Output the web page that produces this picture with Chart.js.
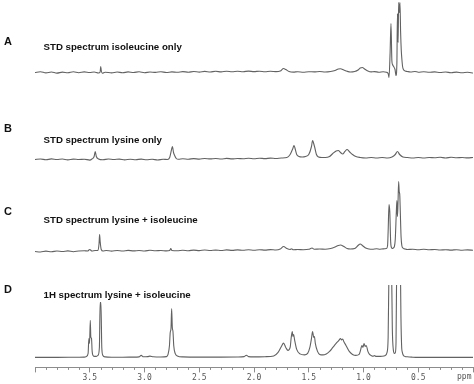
<!DOCTYPE html>
<html><head><meta charset="utf-8">
<script src="https://cdn.jsdelivr.net/npm/chart.js@4"></script>
<style>
html,body{margin:0;padding:0;background:#fff;overflow:hidden;}
#wrap{position:relative;width:474px;height:384px;overflow:hidden;}
.pan{position:absolute;left:0;width:474px;}
.lbl{position:absolute;font-family:"Liberation Sans",Arial,sans-serif;font-weight:bold;color:#111;white-space:nowrap;line-height:1;}
.letter{font-size:11px;left:4px;}
.title{font-size:9.7px;left:43.5px;}
#ppm{position:absolute;left:457px;top:372.5px;font-family:"DejaVu Sans Mono",monospace;font-size:8px;color:#555;line-height:1;}
</style></head><body>
<div id="wrap">
  <div class="pan" style="top:0px;height:95px"><canvas id="cA"></canvas></div>
  <div class="pan" style="top:100px;height:80px"><canvas id="cB"></canvas></div>
  <div class="pan" style="top:175px;height:90px"><canvas id="cC"></canvas></div>
  <div class="pan" style="top:285px;height:99px"><canvas id="cD"></canvas></div>
  <div class="lbl letter" id="lA" style="top:35.6px"></div>
  <div class="lbl title" id="tA" style="top:42px"></div>
  <div class="lbl letter" id="lB" style="top:122.6px"></div>
  <div class="lbl title" id="tB" style="top:135px"></div>
  <div class="lbl letter" id="lC" style="top:205.6px"></div>
  <div class="lbl title" id="tC" style="top:215px"></div>
  <div class="lbl letter" id="lD" style="top:283.6px"></div>
  <div class="lbl title" id="tD" style="top:290px"></div>
  <div id="ppm"></div>
</div>
<script>
// ---- labels ----
const panelLetters = ['A','B','C','D'];
const panelTitles = ['STD spectrum isoleucine only','STD spectrum lysine only','STD spectrum lysine + isoleucine','1H spectrum lysine + isoleucine'];
const axisUnit = 'ppm';
const xTickValues = [0,0.5,1.0,1.5,2.0,2.5,3.0,3.5,4.0];
const xTickLabels = ['','0.5','1.0','1.5','2.0','2.5','3.0','3.5',''];

// ---- A: STD isoleucine only ----
const aPpm = [4.00,3.95,3.90,3.85,3.80,3.75,3.70,3.65,3.60,3.55,3.50,3.46,3.42,3.405,3.40,3.395,3.385,3.36,3.30,3.25,3.20,3.15,3.10,3.05,3.00,2.95,2.90,2.85,2.80,2.75,2.70,2.65,2.60,2.55,2.50,2.45,2.40,2.35,2.30,2.25,2.20,2.15,2.10,2.05,2.00,1.95,1.90,1.85,1.80,1.76,1.73,1.71,1.68,1.64,1.60,1.55,1.50,1.45,1.40,1.35,1.30,1.26,1.23,1.21,1.18,1.15,1.12,1.08,1.05,1.03,1.01,0.99,0.96,0.93,0.90,0.86,0.82,0.79,0.775,0.767,0.757,0.749,0.741,0.735,0.725,0.712,0.703,0.695,0.690,0.684,0.679,0.672,0.667,0.661,0.655,0.650,0.643,0.635,0.62,0.60,0.57,0.53,0.50,0.45,0.40,0.35,0.30,0.25,0.20,0.15,0.10,0.05,0.00];
const aInt = [0,0.8,-0.4,0.5,-0.6,0.4,-0.3,0.7,-0.2,0.6,0,0.5,-0.5,0.5,6,2,-0.8,0.3,-0.4,0.5,-0.3,0.6,0,0.7,-0.2,0.5,0.1,0.8,0,0.6,0.2,0.9,0.3,1,0.4,1.1,0.5,1.2,0.6,1.3,0.7,1.2,0.8,1.4,0.9,1.3,0.8,1.2,0.9,1.5,4,3,1,0.4,0.8,0.3,0.8,0.6,1,0.5,1,2,3.5,3.8,2.5,1.2,0.5,1,2.5,4.5,5,3.5,1.5,0.6,0.9,0.3,0.8,0.2,-1,-5,20,49,12,8,6,3,-3,10,59,30,70,60,70,40,22,14,6,3,1.5,1,0.5,1,0.3,0.8,0.2,0.6,0,0.5,-0.2,0.4,-0.3,0.2,-0.5];

// ---- B: STD lysine only ----
const bPpm = [4.00,3.95,3.90,3.85,3.80,3.75,3.70,3.65,3.60,3.55,3.50,3.48,3.46,3.45,3.44,3.42,3.38,3.33,3.28,3.23,3.18,3.13,3.08,3.03,2.98,2.93,2.88,2.83,2.79,2.77,2.755,2.745,2.735,2.725,2.71,2.69,2.65,2.60,2.55,2.50,2.45,2.40,2.35,2.30,2.25,2.20,2.15,2.10,2.05,2.00,1.95,1.90,1.85,1.80,1.75,1.70,1.67,1.645,1.635,1.625,1.61,1.59,1.56,1.53,1.50,1.475,1.465,1.455,1.445,1.43,1.41,1.38,1.35,1.31,1.28,1.25,1.23,1.21,1.19,1.17,1.15,1.13,1.10,1.07,1.03,0.98,0.93,0.88,0.83,0.78,0.74,0.71,0.69,0.67,0.64,0.60,0.55,0.50,0.45,0.40,0.35,0.30,0.25,0.20,0.15,0.10,0.05,0.00];
const bInt = [0,0.5,-0.3,0.6,0,0.5,-0.4,0.4,0,0.3,-0.6,0.5,3,8,3,0.5,-0.3,0.5,0,0.4,-0.4,0.3,-0.2,0.4,-0.3,0.2,-0.5,0.2,0,2,9,13,7,4,1,0.2,0.8,0.3,0.9,0.4,1,0.6,1,0.5,1.1,0.6,1,0.7,1.2,0.8,1.3,0.9,1.4,1,1.5,2,5,11,14,11,5,3,2.5,3,5,13,19,16,12,5,2.5,2,2,3,6,8.5,9,7,5.5,8,10,8,5,3,2,1.5,2,1.5,2,1.5,2.5,5,8,5,2.5,2,1.5,2,1.5,2,1.8,2.2,1.5,2.2,1.8,2,1.6,2];

// ---- C: STD lysine + isoleucine ----
const cPpm = [4.00,3.95,3.90,3.85,3.80,3.75,3.70,3.65,3.60,3.55,3.52,3.50,3.48,3.45,3.425,3.415,3.41,3.405,3.395,3.38,3.35,3.30,3.25,3.20,3.15,3.10,3.05,3.00,2.95,2.90,2.85,2.80,2.77,2.76,2.75,2.70,2.65,2.60,2.55,2.50,2.45,2.40,2.35,2.30,2.25,2.20,2.15,2.10,2.05,2.00,1.95,1.90,1.85,1.80,1.76,1.73,1.70,1.67,1.66,1.64,1.60,1.55,1.50,1.47,1.45,1.40,1.35,1.30,1.26,1.23,1.21,1.18,1.15,1.12,1.08,1.05,1.03,1.01,0.98,0.95,0.92,0.88,0.85,0.82,0.79,0.78,0.775,0.767,0.760,0.752,0.745,0.735,0.728,0.718,0.71,0.70,0.695,0.69,0.685,0.679,0.674,0.669,0.664,0.657,0.65,0.64,0.62,0.60,0.55,0.50,0.45,0.40,0.35,0.30,0.25,0.20,0.15,0.10,0.05,0.00];
const cInt = [0,-0.5,0.4,-0.3,0.5,0,0.6,-0.2,0.5,0.8,0.5,2,0.5,1,1,8,17,10,2,0.5,1,0.4,1,0.5,1.1,0.6,1,0.5,1.2,0.7,1,0.6,1,3,1,0.8,1.3,0.8,1.4,0.9,1.5,1,1.4,1,1.6,1.1,1.6,1.2,1.7,1.3,1.8,1.4,1.9,1.5,2.5,5,3,2,2.8,1.8,2,1.8,2.2,3.5,2.2,2.5,2.2,3,4.5,6,6.5,5,3,2.5,3,6,7.5,6,3.5,2.5,2.2,2.8,2.3,2.6,3,6,20,47,40,10,4,3,3.5,5,12,40,51,35,48,70,60,57,40,15,6,3.5,2.5,2,2.3,1.8,2.2,1.7,2,1.5,1.8,1.4,1.8,1.3,1.6,1.2];

// ---- D: 1H lysine + isoleucine ----
const dPpm = [4.00,3.80,3.60,3.55,3.53,3.515,3.508,3.502,3.495,3.49,3.484,3.478,3.47,3.455,3.44,3.425,3.412,3.405,3.398,3.39,3.38,3.36,3.30,3.20,3.10,3.05,3.03,3.01,2.97,2.95,2.92,2.85,2.80,2.785,2.772,2.765,2.758,2.752,2.746,2.74,2.733,2.72,2.70,2.65,2.50,2.30,2.15,2.09,2.07,2.05,2.00,1.90,1.82,1.78,1.75,1.73,1.71,1.69,1.67,1.66,1.65,1.645,1.638,1.63,1.61,1.58,1.54,1.51,1.49,1.475,1.465,1.455,1.448,1.44,1.42,1.40,1.37,1.34,1.31,1.28,1.25,1.225,1.21,1.20,1.19,1.18,1.16,1.13,1.10,1.07,1.04,1.025,1.015,1.005,0.995,0.985,0.975,0.96,0.945,0.93,0.915,0.90,0.885,0.86,0.83,0.80,0.785,0.775,0.767,0.757,0.745,0.737,0.728,0.718,0.710,0.703,0.697,0.690,0.683,0.677,0.671,0.665,0.658,0.652,0.645,0.635,0.62,0.60,0.55,0.50,0.00];
const dInt = [0,0,0.2,0.3,1,4,19,14,37,20,19,6,2,1,1,2,10,55,55,10,2,0.5,0.2,0.2,0.3,0.5,2,0.6,0.8,1.3,0.6,0.4,0.8,3,12,25,29,49,30,26,12,4,1.5,0.5,0.3,0.3,0.4,0.8,2.2,0.8,0.5,0.7,1.5,5,11,14.3,10,7,10,20,26,21,23,18,8,3.5,2.5,4,10,19,26,20,21,14,6,3,2.5,3.5,6,10,14,17,19,17.5,18.5,16,12,6,3,2,3,8,12,10,14,11,12,6,3,2,1.2,1.8,1,1,1.2,2,5,20,90,110,100,30,8,4,4.5,15,90,110,100,95,110,105,40,12,5,2,1,0.6,0.2,0,0];

const LINE = '#626262';
const AXIS = '#8c8c8c';

const minorTicks = {
  id: 'minorTicks',
  afterDraw(chart) {
    const s = chart.scales.x;
    if (!s || !s.options.display) return;
    const ctx = chart.ctx;
    ctx.save();
    ctx.strokeStyle = AXIS;
    ctx.lineWidth = 1;
    for (let i = 0; i <= 40; i++) {
      if (i % 5 === 0) continue;
      const x = Math.round(s.getPixelForValue(i / 10)) + 0.5;
      ctx.beginPath();
      ctx.moveTo(x, s.top);
      ctx.lineTo(x, s.top + 2.5);
      ctx.stroke();
    }
    ctx.restore();
  }
};

function makeChart(id, ppm, inten, yMin, yMax, showAxis) {
  const pts = ppm.map((p, i) => ({x: p, y: inten[i]}));
  return new Chart(document.getElementById(id), {
    type: 'line',
    data: {datasets: [{data: pts, borderColor: LINE, borderWidth: 1.1, pointRadius: 0, fill: false, cubicInterpolationMode: 'monotone'}]},
    options: {
      animation: false, responsive: true, maintainAspectRatio: false, events: [],
      layout: {padding: {left: 35, right: 1, top: 0, bottom: 0}},
      plugins: {legend: {display: false}, tooltip: {enabled: false}},
      scales: {
        x: {
          type: 'linear', reverse: true, min: 0, max: 4, display: showAxis, position: 'bottom',
          afterBuildTicks: s => { s.ticks = xTickValues.map(v => ({value: v})); },
          grid: {drawOnChartArea: false, drawTicks: true, tickLength: 5, color: AXIS, lineWidth: 1},
          border: {display: true, color: AXIS, width: 1},
          ticks: {autoSkip: false, maxRotation: 0, padding: 1, color: '#555',
                  font: {family: '"DejaVu Sans Mono", monospace', size: 8},
                  callback: (v, i) => xTickLabels[i]}
        },
        y: {display: false, min: yMin, max: yMax}
      }
    },
    plugins: showAxis ? [minorTicks] : []
  });
}

makeChart('cA', aPpm, aInt, -22.5, 72.5, false);
makeChart('cB', bPpm, bInt, -20.5, 59.5, false);
makeChart('cC', cPpm, cInt, -13.5, 76.5, false);
makeChart('cD', dPpm, dInt, -10, 72.5, true);

['A','B','C','D'].forEach((k, i) => {
  document.getElementById('l' + k).textContent = panelLetters[i];
  document.getElementById('t' + k).textContent = panelTitles[i];
});
document.getElementById('ppm').textContent = axisUnit;
</script>
</body></html>
